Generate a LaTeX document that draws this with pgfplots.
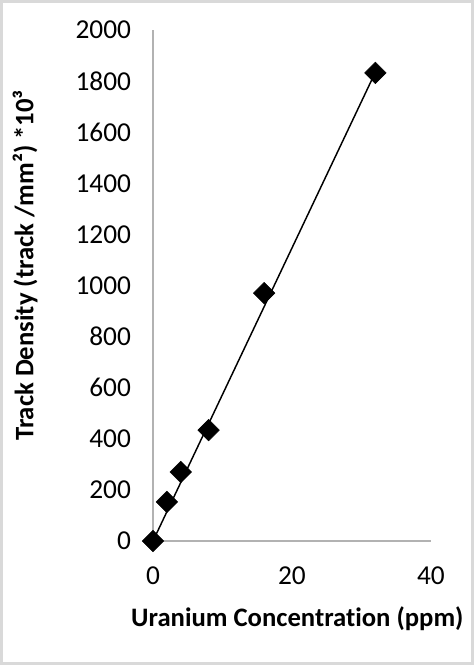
\documentclass[border=0pt]{standalone}
\usepackage{pgfplots}
\pgfplotsset{compat=1.18}
\usepackage{fontspec}
\setmainfont{Carlito}[Ligatures=NoCommon]
\begin{document}
\begin{tikzpicture}
\fill[white] (-114.75pt,-93pt) rectangle (240.75pt,405.75pt);
\draw[line width=2.2pt, gray!30] (-113.65pt,-91.9pt) rectangle (239.65pt,404.65pt);
\begin{axis}[
  at={(0pt,0pt)}, anchor=origin,
  scale only axis, width=208.5pt, height=383.25pt,
  xmin=0, xmax=40, ymin=0, ymax=2000,
  xtick={0,20,40}, ytick={0,200,...,2000},
  axis lines=left, axis line style={-, gray!60, line width=0.9pt},
  major tick length=0pt,
  /pgf/number format/assume math mode=true,
  /pgf/number format/1000 sep={},
  tick label style={font=\fontsize{20.5}{24}\selectfont, black},
  yticklabel style={xshift=-13pt},
  xticklabel style={yshift=-16pt},
  xlabel={\textbf{Uranium Concentration (ppm)}},
  ylabel={\textbf{Track Density (track /mm²) *10³}},
  label style={font=\fontsize{20}{24}\selectfont},
  xlabel style={at={(axis description cs:0.5,0)}, anchor=north, yshift=-46pt, xshift=4pt},
  ylabel style={at={(axis description cs:0,0.5)}, anchor=south, xshift=15pt, yshift=83pt},
  clip=false,
]
\addplot[black, line width=1.1pt, no marks] coordinates {(0,0) (32,1835)};
\addplot[only marks, mark=square*, mark size=5.7pt, mark options={rotate=45, fill=black, draw=black}] coordinates {
(0,0) (2,153) (4,270) (8,434) (16,970) (32,1832)
};
\end{axis}
\end{tikzpicture}
\end{document}
